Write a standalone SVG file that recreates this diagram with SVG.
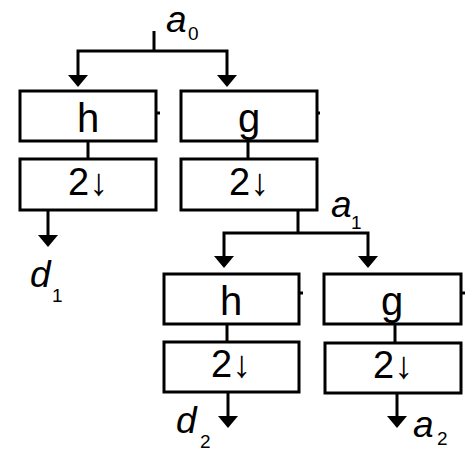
<svg xmlns="http://www.w3.org/2000/svg" width="474" height="454" viewBox="0 0 474 454">
<style>
.box{fill:#fff;stroke:#000;stroke-width:3}
.ln{fill:none;stroke:#000;stroke-width:3;stroke-linejoin:miter}
.lbl{font-family:"Liberation Sans",Arial,sans-serif;font-size:40px;fill:#000;text-anchor:middle}
.ds{font-family:"Liberation Sans",Arial,sans-serif;font-size:38px;fill:#000;text-anchor:middle}
.var{font-family:"Liberation Sans",Arial,sans-serif;font-size:37px;font-style:italic;fill:#000}
.sub{font-family:"Liberation Sans",Arial,sans-serif;font-size:19px;fill:#000}
</style>
<defs>
<marker id="ah" viewBox="0 0 12 20" refX="1" refY="10" markerWidth="12" markerHeight="20" markerUnits="userSpaceOnUse" orient="auto">
<path d="M0,0 L12,10 L0,20 z" fill="#000"/>
</marker>
</defs>
<rect width="474" height="454" fill="#fff"/>
<g id="connectors">
<path class="ln" d="M154,31 V51"/>
<path class="ln" d="M154,51 H78 V76" marker-end="url(#ah)"/>
<path class="ln" d="M154,51 H227 V76" marker-end="url(#ah)"/>
<path class="ln" d="M88,142 V158"/>
<path class="ln" d="M248,142 V158"/>
<path class="ln" d="M48,211 V236" marker-end="url(#ah)"/>
<path class="ln" d="M298,211 V233"/>
<path class="ln" d="M298,233 H224 V257" marker-end="url(#ah)"/>
<path class="ln" d="M298,233 H368 V257" marker-end="url(#ah)"/>
<path class="ln" d="M227,325 V341"/>
<path class="ln" d="M395,325 V342"/>
<path class="ln" d="M228,393 V417" marker-end="url(#ah)"/>
<path class="ln" d="M397,394 V417" marker-end="url(#ah)"/>
<path class="ln" d="M157,113 H160 M317,113 H320 M300,293 H303 M462,293 H465" stroke-width="2"/>
</g>
<g id="h1"><rect class="box" x="20" y="91" width="136" height="50"/><text class="lbl" x="88" y="132">h</text></g>
<g id="d1down"><rect class="box" x="20" y="159" width="136" height="51"/><text class="ds" x="88" y="195">2↓</text></g>
<g id="g1"><rect class="box" x="181" y="91" width="136" height="50"/><text class="lbl" x="249" y="132">g</text></g>
<g id="a1down"><rect class="box" x="181" y="159" width="136" height="51"/><text class="ds" x="249" y="195">2↓</text></g>
<g id="h2"><rect class="box" x="164" y="274" width="135" height="50"/><text class="lbl" x="231" y="315">h</text></g>
<g id="d2down"><rect class="box" x="164" y="342" width="135" height="50"/><text class="ds" x="231" y="377">2↓</text></g>
<g id="g2"><rect class="box" x="324" y="274" width="137" height="50"/><text class="lbl" x="392" y="315">g</text></g>
<g id="a2down"><rect class="box" x="325" y="343" width="136" height="50"/><text class="ds" x="393" y="378">2↓</text></g>
<g id="labels">
<text class="var" x="166" y="32" font-size="35">a</text><text class="sub" x="188" y="40">0</text>
<text class="var" x="331" y="217">a</text><text class="sub" x="351" y="229">1</text>
<text class="var" x="30" y="287">d</text><text class="sub" x="52" y="302">1</text>
<text class="var" x="176" y="433">d</text><text class="sub" x="200" y="448">2</text>
<text class="var" x="413" y="437">a</text><text class="sub" x="437" y="445">2</text>
</g>
</svg>
